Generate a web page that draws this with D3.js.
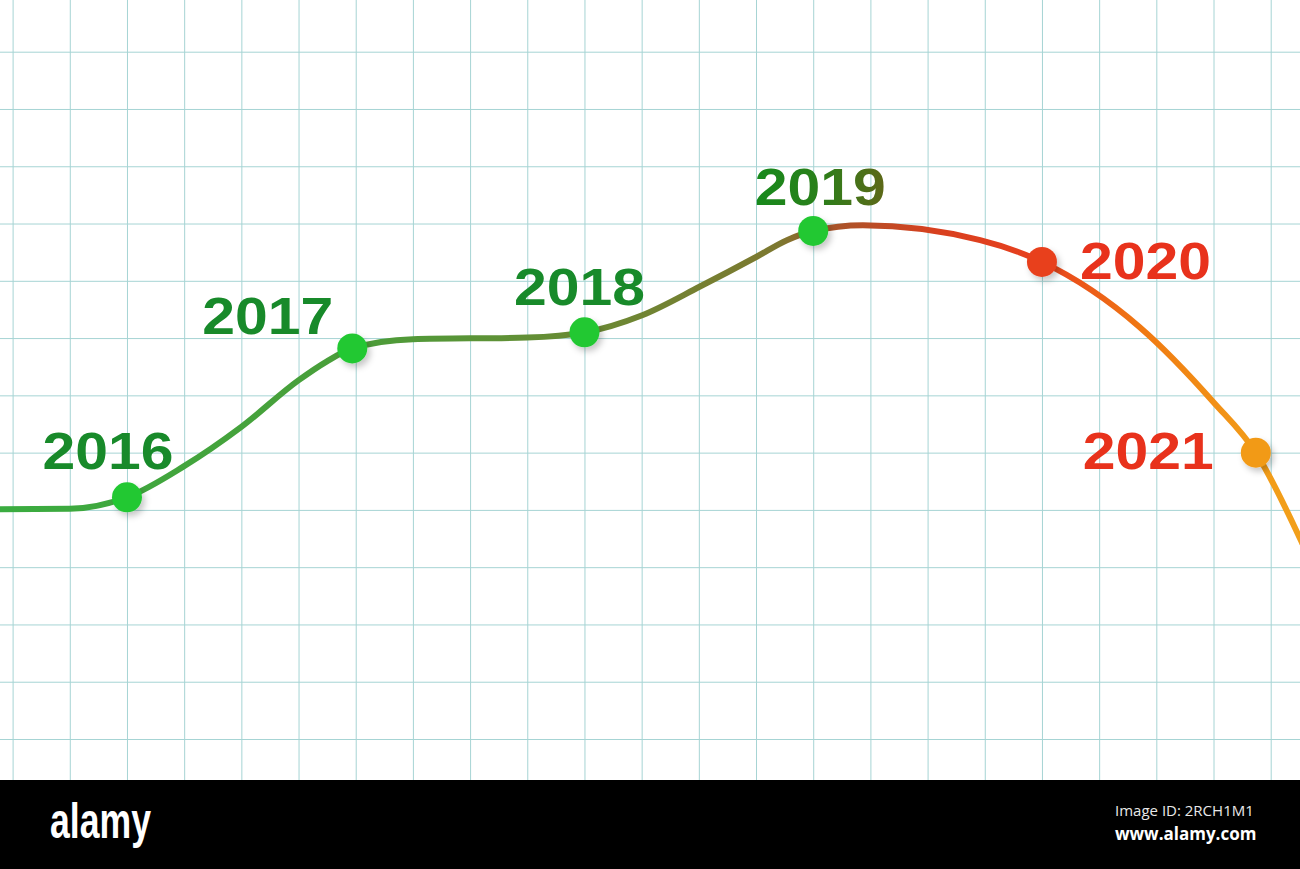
<!DOCTYPE html>
<html>
<head>
<meta charset="utf-8">
<script src="https://cdn.jsdelivr.net/npm/d3@7"></script>
<style>
  html, body { margin: 0; padding: 0; background: #fff; }
  svg { display: block; }
</style>
</head>
<body>
<div id="vis"></div>
<script>
// data, in grid-cell units (x: columns from the first line, y: rows from the bottom line)
const years = ["2016", "2017", "2018", "2019", "2020", "2021"];
const yearX = [2, 5.94, 10, 14, 18, 21.74];
const yearY = [5.22, 7.82, 8.1, 9.87, 9.33, 6.0];

// points, years included
const curveX = [-0.3, 1, 2, 2.985, 4.0, 5.01, 5.49, 5.94, 7, 9, 10, 11.01, 12.02, 13.01, 13.54, 14, 14.87, 16.92, 18, 19.71, 21, 21.74, 22.55];
const curveY = [5.01, 5.02, 5.22, 5.755, 6.45, 7.27, 7.59, 7.82, 7.98, 8.01, 8.1, 8.4, 8.9, 9.42, 9.71, 9.87, 9.97, 9.71, 9.33, 8.19, 6.88, 6.0, 4.42];

const gridCols = d3.range(0, 23);
const gridRows = d3.range(1, 14);

// layout
const width = 1300, height = 869, plotBottom = 780;
const dotColor = ["#22c832", "#22c832", "#22c832", "#22c832", "#e8401e", "#f29a18"];
const labelColor = ["#188a2a", "#188a2a", "#188a2a", "url(#g2019)", "#e8321c", "#e8321c"];
const labelPos = [
  { anchor: "middle", dx: -19, dy: -28 },
  { anchor: "end", dx: -19, dy: -14 },
  { anchor: "middle", dx: -5, dy: -27 },
  { anchor: "middle", dx: 7, dy: -26 },
  { anchor: "start", dx: 38, dy: 17 },
  { anchor: "end", dx: -42, dy: 16 }
];

const x = d3.scaleLinear().domain([0, 22]).range([12.6, 1270.7]);
const y = d3.scaleLinear().domain([1, 13]).range([739, 51.7]);

const svg = d3.select("#vis")
  .append("svg")
    .attr("width", width)
    .attr("height", height);

const defs = svg.append("defs");

const lineGrad = defs.append("linearGradient")
  .attr("id", "lineGrad")
  .attr("gradientUnits", "userSpaceOnUse")
  .attr("x1", 0).attr("x2", width).attr("y1", 0).attr("y2", 0);
[[0, "#3aac40"], [0.27, "#4a9e3a"], [0.45, "#6a8a34"], [0.6, "#7d7830"],
 [0.64, "#a8552a"], [0.72, "#d8401f"], [0.8, "#e8401e"], [0.88, "#f07a12"],
 [0.96, "#f29a18"], [1, "#f2a01a"]]
  .forEach(([o, c]) => lineGrad.append("stop").attr("offset", o).attr("stop-color", c));

const g2019 = defs.append("linearGradient")
  .attr("id", "g2019")
  .attr("x1", 0).attr("x2", 1).attr("y1", 0).attr("y2", 0);
g2019.append("stop").attr("offset", 0).attr("stop-color", "#178a1c");
g2019.append("stop").attr("offset", 0.5).attr("stop-color", "#2a7f1a");
g2019.append("stop").attr("offset", 1).attr("stop-color", "#5e6818");

defs.append("filter")
  .attr("id", "shadow")
  .attr("x", "-50%").attr("y", "-50%").attr("width", "200%").attr("height", "200%")
  .append("feDropShadow")
    .attr("dx", 3).attr("dy", 4)
    .attr("stdDeviation", 3)
    .attr("flood-color", "#000")
    .attr("flood-opacity", 0.22);

// grid
svg.append("g")
  .attr("transform", `translate(0,${plotBottom})`)
  .call(d3.axisBottom(x).tickValues(gridCols).tickSize(-plotBottom).tickFormat(""))
  .call(g => g.select(".domain").remove())
  .call(g => g.selectAll("line").attr("stroke", "#a6d4d4").attr("stroke-width", 1));

svg.append("g")
  .call(d3.axisLeft(y).tickValues(gridRows).tickSize(-width).tickFormat(""))
  .call(g => g.select(".domain").remove())
  .call(g => g.selectAll("line").attr("stroke", "#a6d4d4").attr("stroke-width", 1));

// curve
const line = d3.line()
  .x((d, i) => x(curveX[i]))
  .y((d, i) => y(curveY[i]))
  .curve(d3.curveMonotoneX);

svg.append("path")
  .datum(curveX)
  .attr("fill", "none")
  .attr("stroke", "url(#lineGrad)")
  .attr("stroke-width", 6)
  .attr("stroke-linecap", "round")
  .attr("d", line);

// dots
svg.append("g")
  .selectAll("circle")
  .data(years)
  .join("circle")
    .attr("cx", (d, i) => x(yearX[i]))
    .attr("cy", (d, i) => y(yearY[i]))
    .attr("r", 15)
    .attr("fill", (d, i) => dotColor[i])
    .attr("filter", "url(#shadow)");

// year labels
svg.append("g")
  .selectAll("text")
  .data(years)
  .join("text")
    .attr("x", (d, i) => x(yearX[i]) + labelPos[i].dx)
    .attr("y", (d, i) => y(yearY[i]) + labelPos[i].dy)
    .attr("text-anchor", (d, i) => labelPos[i].anchor)
    .attr("font-family", "'Liberation Sans', Arial, sans-serif")
    .attr("font-weight", "bold")
    .attr("font-size", 51)
    .attr("textLength", 131)
    .attr("lengthAdjust", "spacingAndGlyphs")
    .attr("fill", (d, i) => labelColor[i])
    .text(d => d);

// bottom bar
svg.append("rect")
  .attr("x", 0).attr("y", plotBottom)
  .attr("width", width).attr("height", height - plotBottom)
  .attr("fill", "#000");

svg.append("text")
  .attr("x", 50).attr("y", 838)
  .attr("font-family", "'Liberation Sans Narrow', 'Liberation Sans', Arial, sans-serif")
  .attr("font-weight", "bold")
  .attr("font-size", 50)
  .attr("textLength", 101)
  .attr("lengthAdjust", "spacingAndGlyphs")
  .attr("fill", "#fff")
  .text("alamy");

svg.append("text")
  .attr("x", 1115).attr("y", 816)
  .attr("font-family", "'Open Sans', 'Noto Sans', sans-serif")
  .attr("font-size", 15)
  .attr("fill", "#e8e8e8")
  .text("Image ID: 2RCH1M1");

svg.append("text")
  .attr("x", 1115).attr("y", 840)
  .attr("font-family", "'Open Sans', 'Noto Sans', sans-serif")
  .attr("font-weight", "bold")
  .attr("font-size", 17)
  .attr("fill", "#fff")
  .text("www.alamy.com");
</script>
</body>
</html>
